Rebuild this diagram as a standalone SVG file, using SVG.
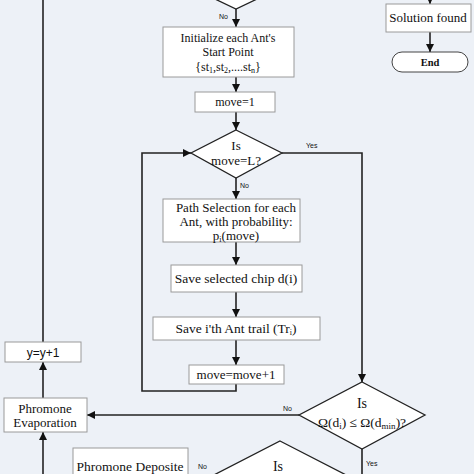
<svg xmlns="http://www.w3.org/2000/svg" width="474" height="474" viewBox="0 0 474 474">
<defs>
<marker id="ah" viewBox="0 0 10 10" refX="10" refY="5" markerWidth="8" markerHeight="8" markerUnits="userSpaceOnUse" orient="auto">
<path d="M0,0 L10,5 L0,10 z" fill="#111"/>
</marker>
<style>
.box{fill:#fff;stroke:#9a9a9a;stroke-width:1}
.dia{fill:#fff;stroke:#222;stroke-width:1.3}
.ln{fill:none;stroke:#222;stroke-width:1.6}
.arr{fill:none;stroke:#222;stroke-width:1.6;marker-end:url(#ah)}
.t{font-family:"Liberation Serif","Times New Roman",serif;font-size:12px;fill:#111;text-anchor:middle}
.s{font-family:"Liberation Sans",Arial,sans-serif;font-size:7px;fill:#111}
.y{font-family:"Liberation Sans",Arial,sans-serif;font-size:12px;fill:#111;text-anchor:middle}
.sub{font-size:8px}
</style>
</defs>
<rect width="474" height="474" fill="#edf1f7"/>

<g id="connectors">
<path class="arr" d="M236,9 V27"/>
<path class="arr" d="M236,77 V92"/>
<path class="arr" d="M236,112 V130"/>
<path class="arr" d="M236,178 V199"/>
<path class="arr" d="M236,242 V265"/>
<path class="arr" d="M236,292 V317"/>
<path class="arr" d="M236,340 V365"/>
<path class="arr" d="M236,384 V391 H142 V153 H191"/>
<path class="arr" d="M282,153 H362 V382"/>
<path class="arr" d="M299,415 H87"/>
<path class="arr" d="M43,474 V432"/>
<path class="arr" d="M43,398 V362"/>
<path class="ln" d="M43,342 V0"/>
<path class="arr" d="M362,449 V478 H352"/>
<path class="arr" d="M208,478 H188"/>
<path class="arr" d="M430,-5 V4"/>
<path class="arr" d="M430,32 V52"/>
<text class="s" x="219" y="19">No</text>
<text class="s" x="240" y="188">No</text>
<text class="s" x="306" y="148">Yes</text>
<text class="s" x="283" y="411">No</text>
<text class="s" x="366" y="466">Yes</text>
<text class="s" x="198" y="469">No</text>
</g>

<g id="top-decision">
<polygon class="dia" points="236,-29 276,-10 236,9 196,-10"/>
</g>

<g id="init">
<rect class="box" x="163" y="27" width="131" height="50"/>
<text class="t" x="228" y="42">Initialize each Ant's</text>
<text class="t" x="228" y="56">Start Point</text>
<text class="t" x="228" y="71">{st<tspan class="sub" dy="2">1</tspan><tspan dy="-2">,st</tspan><tspan class="sub" dy="2">2</tspan><tspan dy="-2">,....st</tspan><tspan class="sub" dy="2">n</tspan><tspan dy="-2">}</tspan></text>
</g>

<g id="move1">
<rect class="box" x="195" y="92" width="80" height="20"/>
<text class="t" x="235" y="106">move=1</text>
</g>

<g id="isMoveL">
<polygon class="dia" points="236,130 282,153 236,178 191,153"/>
<text class="t" x="236" y="150" style="font-size:13px">Is</text>
<text class="t" x="236" y="165" style="font-size:13px">move=L?</text>
</g>

<g id="pathSel">
<rect class="box" x="163" y="199" width="137" height="43"/>
<text class="t" x="236" y="212" style="font-size:13px">Path Selection for each</text>
<text class="t" x="236" y="226" style="font-size:13px">Ant, with probability:</text>
<text class="t" x="236" y="240" style="font-size:13px">p<tspan class="sub" dy="2">i</tspan><tspan dy="-2">(move)</tspan></text>
</g>

<g id="saveChip">
<rect class="box" x="171" y="265" width="131" height="27"/>
<text class="t" x="236" y="283" style="font-size:13.5px">Save selected chip d(i)</text>
</g>

<g id="saveTrail">
<rect class="box" x="153" y="317" width="167" height="23"/>
<text class="t" x="236" y="333" style="font-size:13.5px">Save i'th Ant trail (Tr<tspan class="sub" dy="2">i</tspan><tspan dy="-2">)</tspan></text>
</g>

<g id="moveInc">
<rect class="box" x="189" y="365" width="95" height="19"/>
<text class="t" x="236" y="379" style="font-size:13px">move=move+1</text>
</g>

<g id="isOmega">
<polygon class="dia" points="362,382 425,415 362,449 299,415"/>
<text class="t" x="362" y="408" style="font-size:14px">Is</text>
<text class="t" x="362" y="427" style="font-size:13.5px">Ω(d<tspan class="sub" style="font-size:9px" dy="2">i</tspan><tspan dy="-2">) ≤ Ω(d</tspan><tspan class="sub" style="font-size:9px" dy="2">min</tspan><tspan dy="-2">)?</tspan></text>
</g>

<g id="yInc">
<rect class="box" x="5" y="342" width="76" height="20"/>
<text class="y" x="43" y="357">y=y+1</text>
</g>

<g id="evap">
<rect class="box" x="4" y="398" width="83" height="34"/>
<text class="t" x="45" y="413" style="font-size:13px">Phromone</text>
<text class="t" x="45" y="427" style="font-size:13px">Evaporation</text>
</g>

<g id="deposit">
<rect class="box" x="73" y="448" width="115" height="47"/>
<text class="t" x="130" y="471" style="font-size:13.5px">Phromone Deposite</text>
</g>

<g id="bottom-decision">
<polygon class="dia" points="280,441 352,478 280,515 208,478"/>
<text class="t" x="278" y="471" style="font-size:14px">Is</text>
</g>

<g id="solution">
<rect class="box" x="386" y="4" width="85" height="28"/>
<text class="t" x="428" y="22" style="font-size:13px">Solution found</text>
</g>

<g id="end">
<rect class="box" x="392" y="52" width="76" height="20" rx="10" ry="10" style="stroke:#444"/>
<text class="t" x="430" y="66" style="font-size:10.5px;font-weight:bold">End</text>
</g>
</svg>
